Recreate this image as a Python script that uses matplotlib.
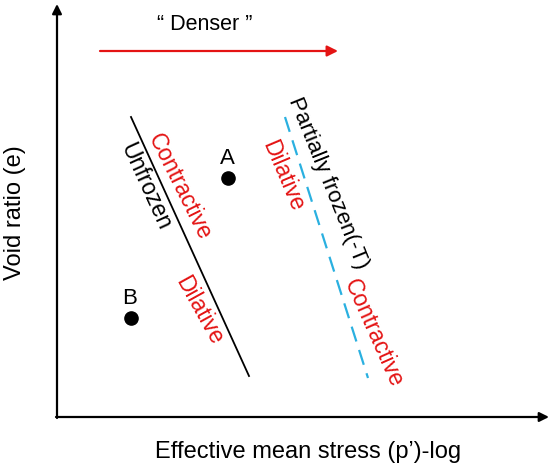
import matplotlib
matplotlib.use("Agg")
import matplotlib.pyplot as plt

plt.rcParams['font.family'] = ['Liberation Sans', 'DejaVu Sans']

# Schematic coordinates (canvas units, y downward)
unfrozen_x = [131, 249]
unfrozen_y = [117, 376]
frozen_x = [285, 368]
frozen_y = [117, 378]
point_names = ["A", "B"]
point_x = [228, 131]
point_y = [178, 318]
denser_x = [100, 338]
denser_y = [51, 51]

RED = "#e41414"
BLUE = "#2ab0e0"

fig = plt.figure(figsize=(5.5, 4.67), dpi=100)
ax = fig.add_axes([0, 0, 1, 1])
ax.set_xlim(0, 550)
ax.set_ylim(467, 0)
ax.axis('off')

# axes arrows
ax.annotate('', xy=(57, 4), xytext=(57, 418),
            arrowprops=dict(arrowstyle='-|>', color='black', lw=1.6, mutation_scale=14, shrinkA=0, shrinkB=0))
ax.annotate('', xy=(549, 417), xytext=(56, 417),
            arrowprops=dict(arrowstyle='-|>', color='black', lw=1.6, mutation_scale=14, shrinkA=0, shrinkB=0))

# denser arrow
ax.annotate('', xy=(denser_x[1], denser_y[1]), xytext=(denser_x[0], denser_y[0]),
            arrowprops=dict(arrowstyle='-|>', color=RED, lw=1.6, mutation_scale=16, shrinkA=0, shrinkB=0))
ax.text(205, 25, "\u201c Denser \u201d", fontsize=15.5, ha='center', va='center')

# lines
ax.plot(unfrozen_x, unfrozen_y, color='black', lw=1.3)
ax.plot(frozen_x, frozen_y, color=BLUE, lw=1.6, dashes=(7, 4))

# points
ax.plot(point_x, point_y, 'o', color='black', markersize=9.5)
for n, x, y in zip(point_names, point_x, point_y):
    ax.text(x - 1, y - 19, n, fontsize=16, ha='center', va='center')

kw = dict(ha='center', va='center', rotation_mode='anchor')
ax.text(145, 187, "Unfrozen", rotation=-65.5, color='black', fontsize=16.5, **kw)
ax.text(180, 187, "Contractive", rotation=-63.5, color=RED, fontsize=16.5, **kw)
ax.text(199, 311, "Dilative", rotation=-61, color=RED, fontsize=16.5, **kw)
ax.text(328, 183, "Partially frozen(-T)", rotation=-68, color='black', fontsize=16, **kw)
ax.text(283, 176, "Dilative", rotation=-67, color=RED, fontsize=16.5, **kw)
ax.text(373, 333, "Contractive", rotation=-66, color=RED, fontsize=16.5, **kw)

ax.text(308, 452, "Effective mean stress (p\u2019)-log", fontsize=17, ha='center', va='center')
ax.text(15, 213, "Void ratio (e)", fontsize=17, rotation=90, ha='center', va='center')

fig.savefig("out.png", dpi=100)
